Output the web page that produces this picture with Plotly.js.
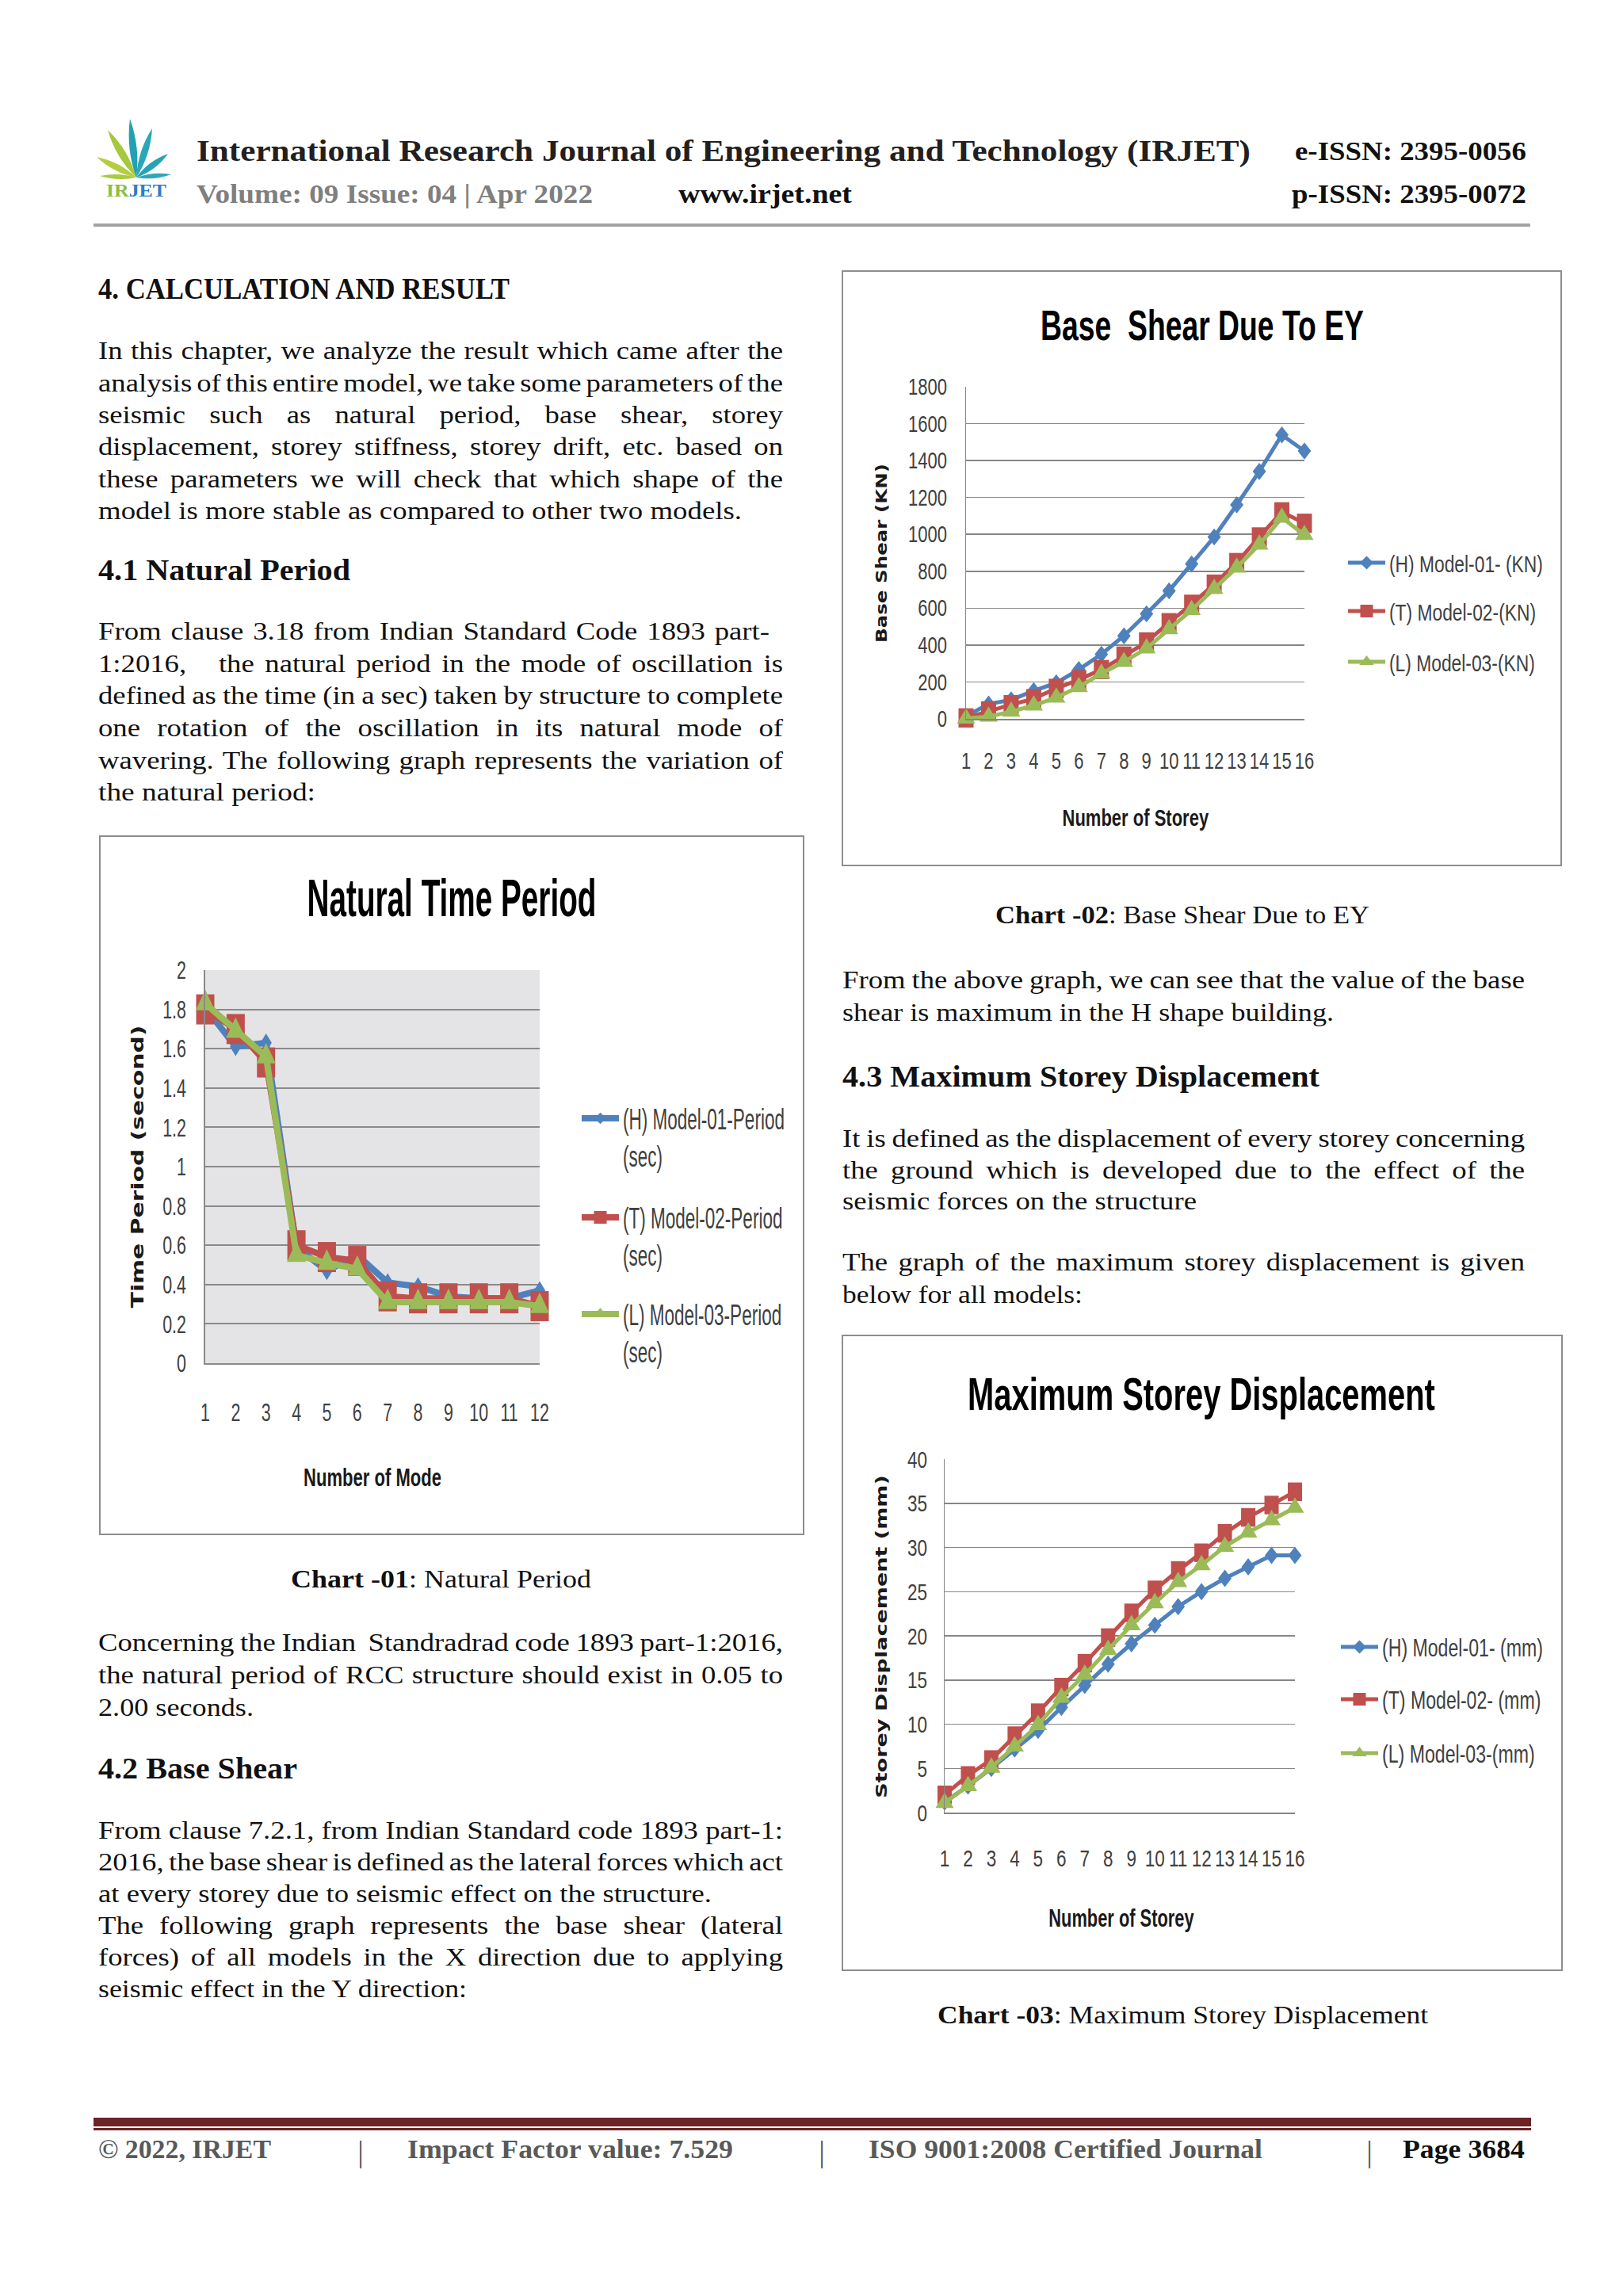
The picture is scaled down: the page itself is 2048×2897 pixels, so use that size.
<!DOCTYPE html>
<html>
<head>
<meta charset="utf-8">
<script src="https://cdn.plot.ly/plotly-3.0.1.min.js"></script>
<style>
html,body{margin:0;padding:0;background:#fff;}
body{width:2048px;height:2897px;position:relative;overflow:hidden;font-family:'Liberation Serif','Times New Roman',serif;color:#111;}
.ln{position:absolute;white-space:pre;line-height:1;display:inline-block;transform-origin:0 50%;}
.chart{position:absolute;}
.frame{position:absolute;border:2px solid #8d8d8d;box-sizing:border-box;pointer-events:none;}
.rule{position:absolute;}
</style>
</head>
<body>
<svg id="logo" style="position:absolute;left:110px;top:140px" width="130" height="130" viewBox="0 0 130 130">
  <path d="M62,84 Q52,49 26,24 Q36,59 62,84Z" fill="#a6c83c"/>
  <path d="M62,84 Q41,64 12,58 Q33,78 62,84Z" fill="#b3cf3f"/>
  <path d="M62,84 Q39,77 16,82 Q39,89 62,84Z" fill="#a9cb3d"/>
  <path d="M62,84 Q67,46 54,10 Q49,48 62,84Z" fill="#24a0b3"/>
  <path d="M62,84 Q80,56 82,22 Q64,50 62,84Z" fill="#2aa6b8"/>
  <path d="M62,84 Q87,75 102,54 Q77,63 62,84Z" fill="#27a3b6"/>
  <path d="M62,84 Q85,88 106,80 Q84,76 62,84Z" fill="#2ea8b9"/>
  <text x="24" y="108" font-family="Liberation Serif" font-weight="bold" font-size="23" textLength="76" lengthAdjust="spacingAndGlyphs"><tspan fill="#8cbf3f">IR</tspan><tspan fill="#2f7dc3">JET</tspan></text>
</svg>
<div class="rule" style="left:118px;top:282px;width:1813px;height:4px;background:#a3a3a3"></div>
<div class="rule" style="left:118px;top:2672px;width:1814px;height:11px;background:#6b2327"></div>
<div class="rule" style="left:118px;top:2685px;width:1814px;height:3px;background:#6b2327"></div>

<div id="chart1" class="chart" style="left:125px;top:1054px;width:890px;height:883px"></div>
<div class="frame" style="left:125px;top:1054px;width:890px;height:883px"></div>
<div id="chart2" class="chart" style="left:1062px;top:341px;width:909px;height:752px"></div>
<div class="frame" style="left:1062px;top:341px;width:909px;height:752px"></div>
<div id="chart3" class="chart" style="left:1062px;top:1684px;width:910px;height:803px"></div>
<div class="frame" style="left:1062px;top:1684px;width:910px;height:803px"></div>

<script>
// ---------------- DATA ----------------
const modes = [1, 2, 3, 4, 5, 6, 7, 8, 9, 10, 11, 12];
const periodH = [1.81, 1.61, 1.63, 0.59, 0.47, 0.55, 0.41, 0.39, 0.34, 0.33, 0.33, 0.37];
const periodT = [1.80, 1.70, 1.53, 0.60, 0.54, 0.52, 0.34, 0.33, 0.33, 0.33, 0.33, 0.29];
const periodL = [1.83, 1.69, 1.56, 0.55, 0.51, 0.48, 0.31, 0.31, 0.31, 0.31, 0.31, 0.29];
const periodNames = ['(H) Model-01-Period<br>(sec)', '(T) Model-02-Period<br>(sec)', '(L) Model-03-Period<br>(sec)'];
const periodTickVals = [0, 0.2, 0.4, 0.6, 0.8, 1, 1.2, 1.4, 1.6, 1.8, 2];
const periodTickText = ['0', '0.2', '0.4', '0.6', '0.8', '1', '1.2', '1.4', '1.6', '1.8', '2'];

const storeys = [1, 2, 3, 4, 5, 6, 7, 8, 9, 10, 11, 12, 13, 14, 15, 16];
const shearH = [15, 80, 103, 152, 195, 267, 350, 450, 569, 694, 840, 986, 1160, 1341, 1539, 1452];
const shearT = [5, 43, 77, 109, 165, 212, 267, 340, 417, 521, 621, 730, 847, 986, 1122, 1060];
const shearL = [2, 12, 39, 73, 116, 173, 246, 309, 382, 486, 590, 705, 820, 945, 1091, 997];
const shearNames = ['(H) Model-01- (KN)', '(T) Model-02-(KN)', '(L) Model-03-(KN)'];
const shearTickVals = [0, 200, 400, 600, 800, 1000, 1200, 1400, 1600, 1800];
const shearTickText = ['0', '200', '400', '600', '800', '1000', '1200', '1400', '1600', '1800'];

const dispH = [1.2, 3.0, 5.0, 7.2, 9.3, 11.9, 14.4, 16.8, 19.1, 21.2, 23.3, 25.0, 26.5, 27.8, 29.1, 29.1];
const dispT = [2.0, 4.2, 6.0, 8.7, 11.3, 14.2, 16.9, 19.8, 22.6, 25.2, 27.4, 29.4, 31.6, 33.4, 34.8, 36.3];
const dispL = [1.1, 3.0, 5.1, 7.5, 9.9, 13.0, 15.6, 18.4, 21.2, 23.7, 26.1, 28.0, 30.1, 31.7, 33.1, 34.5];
const dispNames = ['(H) Model-01- (mm)', '(T) Model-02- (mm)', '(L) Model-03-(mm)'];
const dispTickVals = [0, 5, 10, 15, 20, 25, 30, 35, 40];
const dispTickText = ['0', '5', '10', '15', '20', '25', '30', '35', '40'];

const chartTitles = ['Natural Time Period', 'Base  Shear Due To EY', 'Maximum Storey Displacement'];
const xTitles = ['Number of Mode', 'Number of Storey', 'Number of Storey'];
const yTitles = ['Time Period (second)', 'Base Shear (KN)', 'Storey Displacement (mm)'];

// ---------------- PAGE TEXT ----------------
const headerTitle = 'International Research Journal of Engineering and Technology (IRJET)';
const headerEissn = 'e-ISSN: 2395-0056';
const headerVolume = 'Volume: 09 Issue: 04 | Apr 2022';
const headerWeb = 'www.irjet.net';
const headerPissn = 'p-ISSN: 2395-0072';
const footerTexts = ['© 2022, IRJET', 'Impact Factor value: 7.529', 'ISO 9001:2008 Certified Journal', 'Page 3684'];

const heading1 = '4. CALCULATION AND RESULT';
const heading2 = '4.1 Natural Period';
const heading3 = '4.2 Base Shear';
const heading4 = '4.3 Maximum Storey Displacement';
const caption1 = '<b>Chart -01</b>: Natural Period';
const caption2 = '<b>Chart -02</b>: Base Shear Due to EY';
const caption3 = '<b>Chart -03</b>: Maximum Storey Displacement';

const leftPara1 = [
  'In this chapter, we analyze the result which came after the',
  'analysis of this entire model, we take some parameters of the',
  'seismic such as natural period, base shear, storey',
  'displacement, storey stiffness, storey drift, etc. based on',
  'these parameters we will check that which shape of the',
  'model is more stable as compared to other two models.'
];
const leftPara2 = [
  'From clause 3.18 from Indian Standard Code 1893 part-',
  '1:2016,   the natural period in the mode of oscillation is',
  'defined as the time (in a sec) taken by structure to complete',
  'one rotation of the oscillation in its natural mode of',
  'wavering. The following graph represents the variation of',
  'the natural period:'
];
const leftPara3 = [
  'Concerning the Indian  Standradrad code 1893 part-1:2016,',
  'the natural period of RCC structure should exist in 0.05 to',
  '2.00 seconds.'
];
const leftPara4 = [
  'From clause 7.2.1, from Indian Standard code 1893 part-1:',
  '2016, the base shear is defined as the lateral forces which act',
  'at every storey due to seismic effect on the structure.',
  'The following graph represents the base shear (lateral',
  'forces) of all models in the X direction due to applying',
  'seismic effect in the Y direction:'
];
const rightPara1 = [
  'From the above graph, we can see that the value of the base',
  'shear is maximum in the H shape building.'
];
const rightPara2 = [
  'It is defined as the displacement of every storey concerning',
  'the ground which is developed due to the effect of the',
  'seismic forces on the structure'
];
const rightPara3 = [
  'The graph of the maximum storey displacement is given',
  'below for all models:'
];

// ---------------- TEXT LAYOUT ----------------
function makeLine(html, size, bold, color) {
  const d = document.createElement('div');
  d.className = 'ln';
  d.innerHTML = html;
  d.style.fontSize = size + 'px';
  d.style.fontWeight = bold ? 'bold' : 'normal';
  d.style.color = color || '#111';
  d.style.left = '0px';
  d.style.top = '0px';
  document.body.appendChild(d);
  return d;
}
function natW(d) { return d.getBoundingClientRect().width; }
function setY(d, size, cy) { d.style.top = (cy - 0.5065 * size) + 'px'; }
function fitLine(html, x, cy, size, w, opt) {
  opt = opt || {};
  const d = makeLine(html, size, opt.bold, opt.color);
  setY(d, size, cy);
  const nw = natW(d);
  let left = x;
  if (w) {
    d.style.transform = 'scaleX(' + (w / nw) + ')';
    if (opt.center) left = x - w / 2;
  } else if (opt.center) {
    left = x - nw / 2;
  }
  d.style.left = left + 'px';
  return d;
}
const BODY = 31;
const blocks = [
  {lines: leftPara1, x: 124, w: 864, ys: [443, 483.5, 524, 564, 604.5, 645], ends: {5: 812}},
  {lines: leftPara2, x: 124, w: 864, ys: [797, 838, 878, 919, 960, 1000], ends: {5: 274}, widths: {0: 847}},
  {lines: leftPara3, x: 124, w: 864, ys: [2073, 2114, 2155], ends: {2: 196}},
  {lines: leftPara4, x: 124, w: 864, ys: [2310, 2350, 2390, 2430, 2470, 2510], ends: {2: 774, 5: 465}},
  {lines: rightPara1, x: 1063, w: 861, ys: [1237, 1278], ends: {1: 620}},
  {lines: rightPara2, x: 1063, w: 861, ys: [1437, 1477, 1516], ends: {2: 447}},
  {lines: rightPara3, x: 1063, w: 861, ys: [1593, 1634], ends: {1: 303}}
];
const ratios = [];
blocks.forEach(b => {
  Object.keys(b.ends).forEach(k => {
    const d = makeLine(b.lines[k], BODY, false);
    ratios.push(b.ends[k] / natW(d));
    d.remove();
  });
});
ratios.sort((a, b) => a - b);
const bodyScale = ratios[Math.floor(ratios.length / 2)];
blocks.forEach(b => {
  b.lines.forEach((t, i) => {
    if (b.ends[i] !== undefined) {
      fitLine(t, b.x, b.ys[i], BODY, b.ends[i]);
    } else {
      const target = (b.widths && b.widths[i]) || b.w;
      const d = makeLine(t, BODY, false);
      setY(d, BODY, b.ys[i]);
      const nw = natW(d);
      const n = (t.match(/ /g) || []).length;
      const ws = n ? (target / bodyScale - nw) / n : 0;
      d.style.wordSpacing = ws + 'px';
      d.style.transform = 'scaleX(' + bodyScale + ')';
      d.style.left = b.x + 'px';
    }
  });
});
fitLine(heading1, 124, 365, 37, 519, {bold: true});
fitLine(heading2, 124, 720, 37, 318, {bold: true});
fitLine(heading3, 124, 2232, 37, 251, {bold: true});
fitLine(heading4, 1063, 1359, 37, 602, {bold: true});
fitLine(caption1, 556, 1993, BODY, 379, {center: true});
fitLine(caption2, 1492, 1155, BODY, 472, {center: true});
fitLine(caption3, 1492, 2543, BODY, 619, {center: true});
fitLine(headerTitle, 248, 190, 38, 1330, {bold: true, color: '#231f20'});
fitLine(headerEissn, 1634, 192, 33, 292, {bold: true, color: '#111'});
fitLine(headerVolume, 248, 246, 33, 500, {bold: true, color: '#7f7f7f'});
fitLine(headerWeb, 856, 246, 33, 219, {bold: true, color: '#111'});
fitLine(headerPissn, 1630, 246, 33, 296, {bold: true, color: '#111'});
fitLine(footerTexts[0], 124, 2713, 33, 218, {bold: true, color: '#595959'});
fitLine(footerTexts[1], 514, 2713, 33, 411, {bold: true, color: '#595959'});
fitLine(footerTexts[2], 1096, 2713, 33, 497, {bold: true, color: '#595959'});
fitLine(footerTexts[3], 1770, 2713, 33, 154, {bold: true, color: '#111'});
[455, 1037, 1728].forEach(x => fitLine('|', x, 2715, 38, null, {center: true, color: '#555'}));

// ---------------- CHARTS ----------------
const SANS = 'Liberation Sans, Arial, sans-serif';
const VERD = 'DejaVu Sans, Verdana, sans-serif';
const seriesColors = ['#4F81BD', '#C0504D', '#9BBB59'];
const seriesSymbols = ['diamond', 'square', 'triangle-up'];

function makeTraces(xs, ys, names, sizes, lw) {
  return ys.map((y, i) => ({
    type: 'scatter', mode: 'lines+markers', x: xs, y: y, name: names[i],
    line: {color: seriesColors[i], width: lw},
    marker: {color: seriesColors[i], symbol: seriesSymbols[i], size: sizes[i], line: {width: 0}},
    cliponaxis: false
  }));
}
function makeLayout(c) {
  const tickfont = {family: SANS, size: c.tick, color: '#404040'};
  return {
    width: c.w, height: c.h,
    margin: {l: c.l, r: c.r, t: c.t, b: c.b, pad: 0},
    paper_bgcolor: 'rgba(255,255,255,0)', plot_bgcolor: c.bg,
    showlegend: true,
    title: {text: c.title, font: {family: SANS, size: c.titleSize, color: '#000', weight: 'bold'},
            x: 0.5, xref: 'container', y: 0.9, yref: 'container', xanchor: 'center', yanchor: 'middle'},
    xaxis: {range: c.xr, tickmode: 'array', tickvals: c.xv, ticktext: c.xv.map(String), tickangle: 0,
            showgrid: false, zeroline: false, showline: true, linecolor: c.grid, linewidth: c.gw,
            ticks: '', tickfont: tickfont,
            title: {text: c.xtitle, font: {family: SANS, size: c.xts, color: '#1a1a1a', weight: 'bold'}}},
    yaxis: {range: c.yr, tickmode: 'array', tickvals: c.yv, ticktext: c.yt, tickangle: 0,
            showgrid: true, gridcolor: c.grid, gridwidth: c.gw, zeroline: false,
            showline: true, linecolor: c.grid, linewidth: c.gw, ticks: '', tickfont: tickfont,
            title: {text: c.ytitle, font: {family: VERD, size: c.yts, color: '#1a1a1a', weight: 'bold'}}},
    legend: {x: 0.05, y: 0.95, xref: 'paper', yref: 'paper', xanchor: 'left', yanchor: 'top',
             bgcolor: 'rgba(0,0,0,0)',
             font: {family: SANS, size: c.leg, color: '#404040'}, valign: 'top'}
  };
}
function squeeze(el, s) {
  const x = parseFloat(el.getAttribute('x')) || 0, y = parseFloat(el.getAttribute('y')) || 0;
  el.setAttribute('transform', (el.getAttribute('transform') || '') +
    ' translate(' + x + ',' + y + ') scale(' + s + ',1) translate(' + (-x) + ',' + (-y) + ')');
}
function shift(el, dx, dy) {
  el.setAttribute('transform', 'translate(' + dx + ',' + dy + ') ' + (el.getAttribute('transform') || ''));
}
function centerOn(el, cx, cy) {
  const r = el.getBoundingClientRect();
  shift(el, cx - (r.left + r.width / 2), cy - (r.top + r.height / 2));
}
function finish(gd, c) {
  gd.querySelectorAll('.xtick text, .ytick text').forEach(t => squeeze(t, c.tickS));
  gd.querySelectorAll('.xtick text').forEach(t => {
    const r = t.getBoundingClientRect(); shift(t, 0, c.xTickY - (r.top + r.height / 2));
  });
  gd.querySelectorAll('.ytick text').forEach(t => {
    const r = t.getBoundingClientRect(); shift(t, c.yTickR - r.right, 0);
  });
  [['.gtitle', c.titleW, c.titleC], ['.xtitle', c.xtW, c.xtC], ['.ytitle', c.ytW, c.ytC]].forEach(a => {
    const el = gd.querySelector(a[0]);
    if (!el) return;
    squeeze(el, a[1] / el.getBBox().width);
    centerOn(el, a[2][0], a[2][1]);
  });
  const lg = gd.querySelector('.legend');
  if (lg) {
    lg.querySelectorAll('[clip-path]').forEach(e => e.removeAttribute('clip-path'));
    const texts = lg.querySelectorAll('.legendtext');
    const ls = c.legW / texts[0].getBBox().width;
    texts.forEach(t => squeeze(t, ls));
    lg.querySelectorAll('.traces').forEach((g, i) => {
      const ln = g.querySelector('.legendlines path');
      const pt = g.querySelector('.legendpoints path');
      if (ln) ln.setAttribute('d', 'M-12,0h47');
      if (pt) pt.setAttribute('transform', 'translate(11.5,0)');
      const ref = ln || pt;
      const r = ref.getBoundingClientRect();
      shift(g, c.legX - r.right, c.legY[i] - (r.top + r.height / 2));
    });
  }
  if (c.markerSY) {
    gd.querySelectorAll('.scatterlayer path.point').forEach(p => {
      p.setAttribute('transform', (p.getAttribute('transform') || '') + ' scale(1,' + c.markerSY + ')');
    });
  }
}

const cfg1 = {w: 890, h: 883, l: 134, r: 334, t: 170, b: 217, bg: '#e4e4e6', grid: '#8a8a8a', gw: 2,
  title: chartTitles[0], titleSize: 66, tick: 32, xts: 32, yts: 22, leg: 36,
  xr: [1, 12], xv: modes, yr: [0, 2], yv: periodTickVals, yt: periodTickText,
  xtitle: xTitles[0], ytitle: yTitles[0],
  tickS: 0.67, xTickY: 1782, yTickR: 235, titleW: 365, titleC: [570, 1133],
  xtW: 174, xtC: [470, 1864], ytW: 357, ytC: [173, 1472],
  legW: 204, legX: 781, legY: [1411, 1536, 1658], markerSY: 1.65};
const cfg2 = {w: 909, h: 752, l: 157, r: 325, t: 147, b: 186, bg: '#ffffff', grid: '#868686', gw: 1.5,
  title: chartTitles[1], titleSize: 54, tick: 29, xts: 30, yts: 20, leg: 30,
  xr: [1, 16], xv: storeys, yr: [0, 1800], yv: shearTickVals, yt: shearTickText,
  xtitle: xTitles[1], ytitle: yTitles[1],
  tickS: 0.76, xTickY: 960, yTickR: 1195, titleW: 408, titleC: [1517, 410],
  xtW: 185, xtC: [1433, 1032], ytW: 226, ytC: [1112, 698],
  legW: 194, legX: 1748, legY: [710, 771, 835], markerSY: 1.28};
const cfg3 = {w: 910, h: 803, l: 130, r: 338, t: 157, b: 200, bg: '#ffffff', grid: '#868686', gw: 1.5,
  title: chartTitles[2], titleSize: 58, tick: 30, xts: 31, yts: 20, leg: 32,
  xr: [1, 16], xv: storeys, yr: [0, 40], yv: dispTickVals, yt: dispTickText,
  xtitle: xTitles[2], ytitle: yTitles[2],
  tickS: 0.75, xTickY: 2345, yTickR: 1170, titleW: 590, titleC: [1516, 1759],
  xtW: 184, xtC: [1415, 2421], ytW: 408, ytC: [1112, 2065],
  legW: 203, legX: 1739, legY: [2078, 2144, 2212], markerSY: 1.3};

const plotConfig = {staticPlot: true, responsive: false, displayModeBar: false};
Plotly.newPlot('chart1', makeTraces(modes, [periodH, periodT, periodL], periodNames, [11, 23, 21], 8), makeLayout(cfg1), plotConfig)
  .then(gd => finish(gd, cfg1));
Plotly.newPlot('chart2', makeTraces(storeys, [shearH, shearT, shearL], shearNames, [13, 19, 20], 5), makeLayout(cfg2), plotConfig)
  .then(gd => finish(gd, cfg2));
Plotly.newPlot('chart3', makeTraces(storeys, [dispH, dispT, dispL], dispNames, [13, 18, 20], 5), makeLayout(cfg3), plotConfig)
  .then(gd => finish(gd, cfg3));
</script>
</body>
</html>
